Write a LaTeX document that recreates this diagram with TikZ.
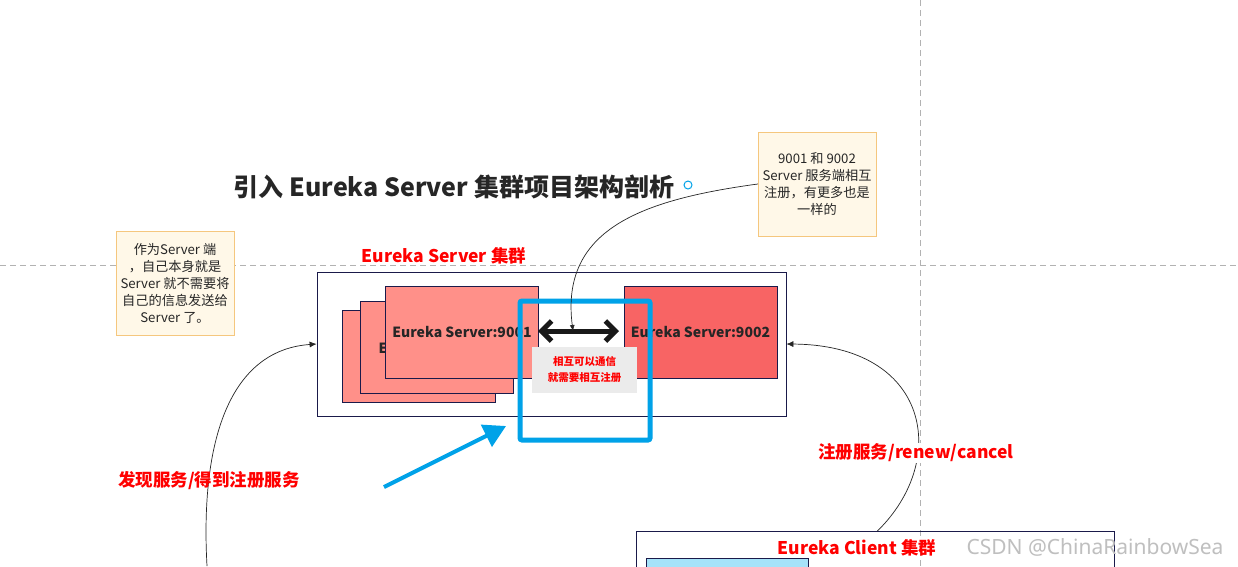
\documentclass[tikz,border=0pt]{standalone}
\usepackage{fontspec}
\setmainfont{Noto Sans CJK SC}
\newfontfamily\wmfont{Noto Sans}
\usetikzlibrary{arrows.meta}
\definecolor{navy}{HTML}{1A1A4A}
\definecolor{srvA}{HTML}{FF9089}
\definecolor{srvB}{HTML}{F86464}
\definecolor{blueh}{HTML}{00A2E8}
\definecolor{notef}{HTML}{FFF8E8}
\definecolor{noted}{HTML}{F5C77E}
\tikzset{
 srv/.style={draw=navy,fill=srvA,minimum width=153pt,minimum height=92pt,font=\fontsize{14}{16}\selectfont\bfseries,text=black!85},
 note/.style={draw=noted,fill=notef,minimum width=118pt,minimum height=104pt,align=center,font=\fontsize{13.2}{17}\selectfont,text=black!85},
 redlab/.style={text=red,font=\fontsize{17.5}{20}\selectfont\bfseries},
 conn/.style={draw=black!85,line width=0.7pt,-{Latex[length=7pt,width=6pt]}},
 guide/.style={draw=black!30,dashed,dash pattern=on 6pt off 4pt,line width=0.7pt}
}
\begin{document}
\begin{tikzpicture}[x=1pt,y=-1pt]
\useasboundingbox[fill=white] (0,0) rectangle (1238,566);
\draw[guide] (920,0) -- (920,566);
\draw[guide] (0,265) -- (1238,265);
\node[font=\fontsize{25}{29}\selectfont\bfseries,text=black!85] (title) at (454,187) {引入 Eureka Server 集群项目架构剖析};
\draw[blueh,line width=1pt] (688,185) circle (4);
\node[note] (n1) at (817,184) {9001 和 9002\\Server 服务端相互\\注册，有更多也是\\一样的};
\node[note] (n2) at (175,283) {作为Server 端\\，自己本身就是\\Server 就不需要将\\自己的信息发送给\\Server 了。};
\node[redlab] (lab1) at (444,256) {Eureka Server 集群};
\node[draw=navy,line width=0.8pt,minimum width=469pt,minimum height=144pt] (cluster) at (551.5,344) {};
\node[srv] (s3) at (418.5,356.5) {};
\draw[navy,fill=srvA] (360,301) rectangle (513,393);
\node[font=\fontsize{14}{16}\selectfont\bfseries,text=black!85,anchor=west] (s2t) at (375,348) {Eureka};
\node[srv] (s1) at (462,332) {Eureka Server:9001};
\node[srv,fill=srvB] (s4) at (700.5,332) {Eureka Server:9002};
\node[fill=black!8,minimum width=105pt,minimum height=46pt,align=center,text=red,font=\fontsize{10.5}{16}\selectfont\bfseries] (g) at (584.5,370) {相互可以通信\\就需要相互注册};
\coordinate (da) at (538,331);
\coordinate (db) at (619,331);
\draw[line width=5pt,black!90,{Straight Barb[length=10pt,width=20pt]}-{Straight Barb[length=10pt,width=20pt]}] (da) -- (db);
\draw[blueh,line width=5pt,rounded corners=2pt] (520,301) rectangle (650,440);
\coordinate (ba) at (384,487);
\coordinate (bb) at (506,426);
\draw[blueh,line width=4pt,-{Triangle[length=22pt,width=24pt]}] (ba) -- (bb);
\coordinate (c1) at (573,331);
\draw[conn,-{Latex[length=6pt,width=5pt]}] (n1.west) .. controls (640,200) and (560,230) .. (c1);
\coordinate (lc) at (207,566);
\draw[conn] (lc) .. controls (200,440) and (230,350) .. (cluster.west);
\node[draw=navy,line width=0.8pt,minimum width=478pt,minimum height=80pt,anchor=north west] (client) at (636,531) {};
\draw[conn] (client.north) ++(2,0) coordinate (rc) .. controls (950,460) and (930,345) .. (cluster.east);
\node[redlab] (lab2) at (209,481) {发现服务/得到注册服务};
\node[redlab,fill=white,inner sep=1pt] (lab3) at (916,453) {注册服务/renew/cancel};
\node[redlab] (lab4) at (857,548) {Eureka Client 集群};
\draw[navy,fill=cyan!35] (646,558) rectangle (808,570);
\node[text=black!25,font=\fontsize{21}{22}\selectfont\wmfont] (wm) at (1095,547) {CSDN @ChinaRainbowSea};
\end{tikzpicture}
\end{document}
